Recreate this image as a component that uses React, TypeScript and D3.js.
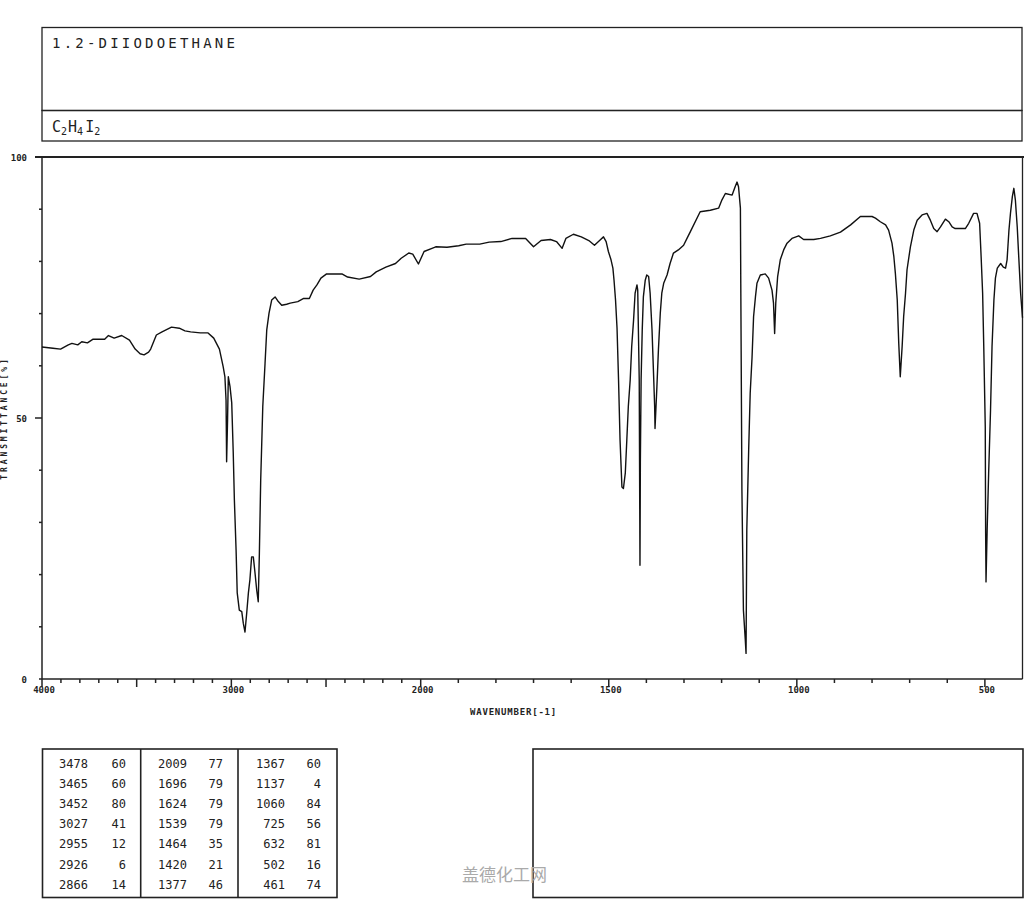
import React from "react";
import * as d3 from "d3";

const TITLE = "1.2-DIIODOETHANE";
const X_LABEL = "WAVENUMBER[-1]";
const Y_LABEL = "TRANSMITTANCE[%]";
const WATERMARK = "盖德化工网";

const WAVENUMBER = [
  4000, 3942, 3902, 3861, 3842, 3811, 3790, 3760, 3730, 3669, 3649, 3619, 3579, 3538, 3508, 3482, 3461, 3437, 3426,
  3396, 3366, 3316, 3275, 3245, 3215, 3164, 3123, 3093, 3063, 3043, 3034, 3028, 3025, 3020, 3016, 3007, 2998, 2990,
  2984, 2975, 2969, 2958, 2945, 2937, 2928, 2919, 2910, 2902, 2893, 2884, 2875, 2866, 2858, 2852, 2845, 2840, 2834,
  2822, 2813, 2801, 2787, 2769, 2752, 2734, 2708, 2689, 2649, 2618, 2588, 2568, 2548, 2527, 2497, 2446, 2416, 2386,
  2325, 2265, 2235, 2184, 2133, 2103, 2063, 2042, 2012, 1991, 1970, 1960, 1930, 1899, 1879, 1843, 1818, 1787, 1757,
  1721, 1700, 1680, 1655, 1639, 1624, 1614, 1594, 1573, 1553, 1538, 1523, 1514, 1507, 1501, 1494, 1489, 1486, 1482,
  1478, 1474, 1470, 1465, 1461, 1456, 1452, 1448, 1443, 1439, 1434, 1430, 1425, 1423, 1419, 1417, 1416, 1414, 1411,
  1408, 1403, 1399, 1394, 1390, 1385, 1381, 1378, 1377, 1372, 1368, 1363, 1359, 1354, 1345, 1337, 1328, 1315, 1301,
  1292, 1283, 1257, 1230, 1208, 1199, 1190, 1172, 1164, 1159, 1155, 1150, 1149, 1146, 1142, 1137, 1135, 1133, 1128,
  1124, 1119, 1115, 1110, 1106, 1097, 1084, 1075, 1066, 1062, 1059, 1056, 1051, 1044, 1035, 1026, 1013, 995, 982,
  955, 937, 911, 884, 857, 831, 800, 791, 778, 764, 756, 747, 742, 738, 733, 729, 725, 720, 716, 711, 707, 698, 689,
  680, 667, 654, 645, 636, 627, 618, 605, 596, 587, 579, 552, 543, 530, 521, 514, 510, 506, 503, 499, 498, 497, 494,
  490, 485, 481, 476, 472, 467, 458, 451, 445, 441, 436, 432, 427, 423, 419, 414, 410, 405, 400,
];

const TRANSMITTANCE = [
  63.6, 63.35, 63.2, 64.0, 64.3, 64.0, 64.6, 64.4, 65.1, 65.1, 65.8, 65.3, 65.8, 64.9, 63.2, 62.3, 62.1, 62.6, 63.2,
  65.9, 66.5, 67.4, 67.2, 66.7, 66.5, 66.3, 66.3, 65.3, 63.2, 59.8, 57.9, 53.4, 41.6, 49.6, 57.9, 56.0, 52.9, 43.3,
  34.3, 24.7, 16.5, 13.2, 12.9, 10.7, 9.0, 12.6, 16.5, 19.0, 23.4, 23.4, 20.3, 17.0, 14.8, 24.1, 38.1, 44.5, 52.2,
  60.5, 66.9, 70.1, 72.6, 73.2, 72.3, 71.6, 71.8, 72.0, 72.3, 72.9, 72.9, 74.5, 75.5, 76.8, 77.6, 77.6, 77.6, 77.0,
  76.6, 77.1, 78.0, 78.9, 79.6, 80.6, 81.6, 81.4, 79.5, 81.9, 82.5, 82.8, 82.7, 83.0, 83.3, 83.3, 83.7, 83.8, 84.4,
  84.4, 82.8, 84.0, 84.2, 83.8, 82.5, 84.4, 85.2, 84.7, 84.0, 83.1, 84.1, 84.7, 83.8, 81.9, 80.3, 78.7, 76.4, 72.6,
  67.2, 57.3, 45.8, 36.8, 36.5, 39.5, 45.8, 52.2, 57.3, 63.7, 68.8, 73.9, 75.5, 74.5, 57.3, 21.8, 41.4, 57.3, 66.9,
  73.2, 76.4, 77.4, 77.1, 73.9, 66.9, 58.6, 52.2, 48.0, 56.0, 63.0, 70.1, 73.9, 75.8, 77.4, 79.6, 81.6, 82.2, 83.1,
  84.4, 85.7, 89.5, 89.8, 90.2, 91.8, 93.0, 92.7, 94.3, 95.2, 94.3, 90.2, 75.8, 36.2, 13.2, 7.5, 4.9, 28.5, 43.9,
  54.7, 61.7, 69.4, 73.2, 75.8, 77.4, 77.6, 76.8, 74.5, 72.0, 66.2, 72.0, 77.1, 80.3, 82.2, 83.5, 84.4, 84.9, 84.2,
  84.2, 84.4, 84.9, 85.6, 87.0, 88.6, 88.6, 88.3, 87.6, 87.0, 86.0, 83.5, 80.9, 77.7, 72.6, 64.3, 57.9, 63.7, 69.4,
  73.9, 78.4, 82.8, 86.0, 87.9, 88.9, 89.2, 87.9, 86.3, 85.7, 86.6, 88.1, 87.6, 86.6, 86.3, 86.3, 87.3, 89.2, 89.2,
  87.3, 80.9, 73.9, 63.7, 48.3, 27.9, 18.6, 28.5, 39.4, 51.5, 63.7, 72.6, 76.8, 78.7, 79.6, 78.9, 78.7, 80.3, 86.0,
  89.2, 92.4, 94.0, 91.8, 86.6, 80.9, 73.9, 69.2,
];

const X_TICK_LABELS = [4000, 3000, 2000, 1500, 1000, 500];
const Y_TICK_LABELS = [0, 50, 100];

const PEAK_WAVENUMBERS = [
  ["3478", "3465", "3452", "3027", "2955", "2926", "2866"],
  ["2009", "1696", "1624", "1539", "1464", "1420", "1377"],
  ["1367", "1137", "1060", "725", "632", "502", "461"],
];
const PEAK_INTENSITIES = [
  ["60", "60", "80", "41", "12", "6", "14"],
  ["77", "79", "79", "79", "35", "21", "46"],
  ["60", "4", "84", "56", "81", "16", "74"],
];

const MONO = "'DejaVu Sans Mono', monospace";

export default function App() {
  const x = d3.scaleLinear().domain([4000, 2000, 400]).range([42, 420.7, 1022.5]);
  const y = d3.scaleLinear().domain([0, 100]).range([679, 157]);

  const pts: [number, number][] = WAVENUMBER.map((w, i) => [w, TRANSMITTANCE[i]]);
  const line = d3
    .line<[number, number]>()
    .x((d) => x(d[0]))
    .y((d) => y(d[1]))
    .curve(d3.curveLinear);

  const minorX: number[] = [];
  for (let w = 4000; w >= 500; w -= 100) minorX.push(w);
  const yMinor = d3.range(10, 100, 10);

  const colWave = [88, 187, 285];
  const colInt = [126, 223, 321];

  return (
    <svg
      width={1024}
      height={900}
      style={{ position: "absolute", left: 0, top: 0, background: "#fff" }}
    >
      <rect x={0} y={0} width={1024} height={900} fill="#fff" />
      {/* header boxes */}
      <rect x={42} y={27.5} width={980} height={83} fill="none" stroke="#222" strokeWidth={1.3} />
      <rect x={42} y={110.5} width={980} height={30.5} fill="none" stroke="#222" strokeWidth={1.3} />
      <text x={52} y={48} fontFamily={MONO} fontSize={14} letterSpacing={3.2} fill="#222">
        {TITLE}
      </text>
      <text x={52} y={132} fontFamily={MONO} fontSize={15} fill="#222">
        <tspan>C</tspan>
        <tspan fontSize={10} dy={3}>2</tspan>
        <tspan dy={-3} dx={1}>H</tspan>
        <tspan fontSize={10} dy={3}>4</tspan>
        <tspan dy={-3} dx={2}>I</tspan>
        <tspan fontSize={10} dy={3}>2</tspan>
      </text>

      {/* plot frame */}
      <line x1={35} x2={1024} y1={y(100)} y2={y(100)} stroke="#222" strokeWidth={2} />
      <line x1={42} x2={42} y1={y(100)} y2={y(0)} stroke="#222" strokeWidth={1.5} />
      <line x1={39} x2={1022.5} y1={y(0)} y2={y(0)} stroke="#222" strokeWidth={1.5} />
      <line x1={1022.5} x2={1022.5} y1={y(100)} y2={y(0)} stroke="#222" strokeWidth={1.3} />

      {/* y ticks */}
      {yMinor.map((v) => (
        <line
          key={"ym" + v}
          x1={v === 50 ? 35 : 39}
          x2={42}
          y1={y(v)}
          y2={y(v)}
          stroke="#222"
          strokeWidth={1.5}
        />
      ))}
      {Y_TICK_LABELS.map((v) => (
        <text
          key={"yl" + v}
          x={27}
          y={y(v) + 4}
          textAnchor="end"
          fontFamily={MONO}
          fontWeight="bold"
          fontSize={9}
          fill="#222"
        >
          {v}
        </text>
      ))}

      {/* x ticks */}
      {minorX.map((w) => (
        <line
          key={"xm" + w}
          x1={x(w)}
          x2={x(w)}
          y1={y(0)}
          y2={y(0) + (w % 500 === 0 ? 8 : 4)}
          stroke="#222"
          strokeWidth={1.5}
        />
      ))}
      {X_TICK_LABELS.map((w) => (
        <text
          key={"xl" + w}
          x={x(w) + 2}
          y={y(0) + 14}
          textAnchor="middle"
          fontFamily={MONO}
          fontWeight="bold"
          fontSize={9}
          fill="#222"
        >
          {w}
        </text>
      ))}

      <text
        x={470}
        y={715}
        fontFamily={MONO}
        fontWeight="bold"
        fontSize={9}
        letterSpacing={0.8}
        fill="#222"
      >
        {X_LABEL}
      </text>
      <text
        transform={`translate(7,${(y(50) + 0)}) rotate(-90)`}
        textAnchor="middle"
        fontFamily={MONO}
        fontWeight="bold"
        fontSize={8}
        letterSpacing={2.9}
        fill="#222"
      >
        {Y_LABEL}
      </text>

      {/* spectrum */}
      <path d={line(pts) || ""} fill="none" stroke="#111" strokeWidth={1.4} strokeLinejoin="round" />

      {/* peak table */}
      <rect x={42.5} y={749} width={294.5} height={148.5} fill="none" stroke="#222" strokeWidth={1.6} />
      <line x1={140.7} x2={140.7} y1={749} y2={897.5} stroke="#222" strokeWidth={1.6} />
      <line x1={238} x2={238} y1={749} y2={897.5} stroke="#222" strokeWidth={1.6} />
      {PEAK_WAVENUMBERS.map((col, ci) =>
        col.map((w, ri) => (
          <g key={`t${ci}-${ri}`}>
            <text
              x={colWave[ci]}
              y={767.5 + ri * 20.2}
              textAnchor="end"
              fontFamily={MONO}
              fontSize={12}
              fill="#222"
            >
              {w}
            </text>
            <text
              x={colInt[ci]}
              y={767.5 + ri * 20.2}
              textAnchor="end"
              fontFamily={MONO}
              fontSize={12}
              fill="#222"
            >
              {PEAK_INTENSITIES[ci][ri]}
            </text>
          </g>
        ))
      )}

      {/* empty box */}
      <rect x={533} y={749} width={490} height={148.5} fill="none" stroke="#222" strokeWidth={1.6} />

      <text
        x={462}
        y={881}
        fontFamily="'Noto Sans CJK SC', sans-serif"
        fontSize={17}
        fill="#aaa"
      >
        {WATERMARK}
      </text>
    </svg>
  );
}
